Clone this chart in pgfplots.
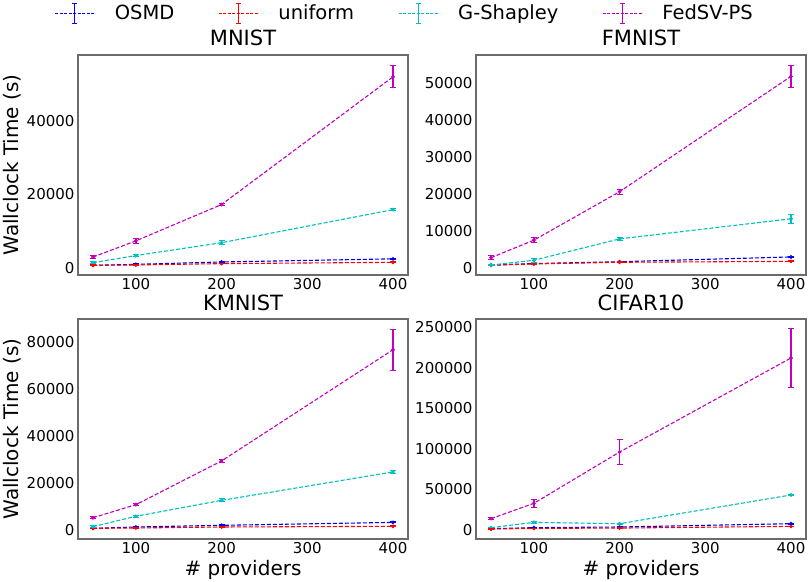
\documentclass[border=0pt]{standalone}
\usepackage{fontspec}
\setmainfont{DejaVu Sans}
\usepackage{pgfplots}
\pgfplotsset{compat=1.18}
\definecolor{cosmd}{rgb}{0,0,1}
\definecolor{cunif}{rgb}{1,0,0}
\definecolor{cgsh}{rgb}{0,0.75,0.75}
\definecolor{cfed}{rgb}{0.75,0,0.75}
\definecolor{framec}{gray}{0.42}
\pgfplotsset{
  panel/.style={
    scale only axis, width=330pt, height=220pt,
    xmin=32.5, xmax=417.5, xtick={100,200,300,400},
    axis line style={framec, line width=1.4pt},
    major tick length=0pt,
    tick label style={font=\fontsize{15}{18}\selectfont},
    /pgf/number format/fixed,
    /pgf/number format/assume math mode=true,
    /pgf/number format/1000 sep={},
    scaled y ticks=false,
    unbounded coords=jump,
    title style={font=\fontsize{21}{24}\selectfont, at={(0.5,1)}, anchor=base, yshift=3pt},
    label style={font=\fontsize{20}{24}\selectfont},
  },
  yl/.style={ylabel={Wallclock Time (s)}, ylabel style={at={(axis description cs:-0.2,0.5)}, anchor=center}},
  xl/.style={xlabel={\# providers}, xlabel style={at={(axis description cs:0.5,-0.14)}, anchor=center}},
  % mean curve: dashed line with a small dot
  ser/.style={color=#1, dash pattern=on 4pt off 2pt, line width=1.1pt,
    mark=*, mark size=1.3pt, mark options={solid, color=#1}},
  % error bars: (x,low) (x,high) pairs separated by nan, capped by the '-' mark
  err/.style={color=#1, solid, line width=1.5pt, forget plot,
    mark=-, mark size=3pt, mark options={solid, color=#1, line width=1pt}},
}
\begin{document}
\begin{tikzpicture}
\useasboundingbox (0,0) rectangle (811pt,581pt);

% MNIST
\begin{axis}[panel, yl, at={(78pt,306pt)}, anchor=south west,
  title={MNIST}, ymin=-2000, ymax=57950, ytick={0,20000,40000},
  legend columns=4,
  legend style={at={(0.99,1.19)}, anchor=center, draw=none, fill=none,
    font=\fontsize{19.5}{22}\selectfont,
    /tikz/every odd column/.append style={column sep=18pt},
    /tikz/every even column/.append style={column sep=42pt}},
  legend image code/.code={
    \draw[#1, dash pattern=on 3pt off 1.5pt, line width=1.1pt] (0pt,0pt) -- (39pt,0pt);
    \draw[#1, solid, line width=1.2pt] (19.5pt,-10pt) -- (19.5pt,10pt) (17pt,-10pt) -- (22pt,-10pt) (17pt,10pt) -- (22pt,10pt);
  }]
\addplot[ser=cosmd] coordinates {(50,640) (100,900) (200,1550) (400,2400)};
\addlegendentry{OSMD}
\addplot[ser=cunif] coordinates {(50,640) (100,730) (200,1100) (400,1450)};
\addlegendentry{uniform}
\addplot[ser=cgsh] coordinates {(50,1370) (100,3300) (200,6800) (400,15800)};
\addlegendentry{G-Shapley}
\addplot[ser=cfed] coordinates {(50,2900) (100,7300) (200,17200) (400,52000)};
\addlegendentry{FedSV-PS}
\addplot[err=cosmd] coordinates {(50,540) (50,740) (50,nan) (100,800) (100,1000) (100,nan) (200,1400) (200,1700) (200,nan) (400,2200) (400,2600)};
\addplot[err=cunif] coordinates {(50,540) (50,740) (50,nan) (100,630) (100,830) (100,nan) (200,1000) (200,1200) (200,nan) (400,1300) (400,1600)};
\addplot[err=cgsh] coordinates {(50,1170) (50,1570) (50,nan) (100,3000) (100,3600) (100,nan) (200,6200) (200,7400) (200,nan) (400,15500) (400,16100)};
\addplot[err=cfed] coordinates {(50,2600) (50,3200) (50,nan) (100,6700) (100,7900) (100,nan) (200,16900) (200,17500) (200,nan) (400,49000) (400,55000)};
\end{axis}

% FMNIST
\begin{axis}[panel, at={(476pt,306pt)}, anchor=south west,
  title={FMNIST}, ymin=-2000, ymax=57700, ytick={0,10000,20000,30000,40000,50000}]
\addplot[ser=cosmd] coordinates {(50,700) (100,1100) (200,1600) (400,2900)};
\addplot[ser=cunif] coordinates {(50,640) (100,1000) (200,1450) (400,1700)};
\addplot[ser=cgsh] coordinates {(50,700) (100,2000) (200,7800) (400,13250)};
\addplot[ser=cfed] coordinates {(50,2700) (100,7450) (200,20600) (400,51900)};
\addplot[err=cosmd] coordinates {(50,600) (50,800) (50,nan) (100,1000) (100,1200) (100,nan) (200,1450) (200,1750) (200,nan) (400,2700) (400,3100)};
\addplot[err=cunif] coordinates {(50,540) (50,740) (50,nan) (100,900) (100,1100) (100,nan) (200,1350) (200,1550) (200,nan) (400,1550) (400,1850)};
\addplot[err=cgsh] coordinates {(50,500) (50,900) (50,nan) (100,1400) (100,2600) (100,nan) (200,7300) (200,8300) (200,nan) (400,11950) (400,14550)};
\addplot[err=cfed] coordinates {(50,2200) (50,3200) (50,nan) (100,6850) (100,8050) (100,nan) (200,19900) (200,21300) (200,nan) (400,48900) (400,54900)};
\end{axis}

% KMNIST
\begin{axis}[panel, yl, xl, at={(78pt,42pt)}, anchor=south west,
  title={KMNIST}, ymin=-3980, ymax=89800, ytick={0,20000,40000,60000,80000}]
\addplot[ser=cosmd] coordinates {(50,570) (100,1140) (200,1850) (400,3100)};
\addplot[ser=cunif] coordinates {(50,570) (100,710) (200,1140) (400,1420)};
\addplot[ser=cgsh] coordinates {(50,1280) (100,5700) (200,12500) (400,24600)};
\addplot[ser=cfed] coordinates {(50,5100) (100,10650) (200,29300) (400,76700)};
\addplot[err=cosmd] coordinates {(50,470) (50,670) (50,nan) (100,1040) (100,1240) (100,nan) (200,1700) (200,2000) (200,nan) (400,2900) (400,3300)};
\addplot[err=cunif] coordinates {(50,470) (50,670) (50,nan) (100,610) (100,810) (100,nan) (200,1040) (200,1240) (200,nan) (400,1270) (400,1570)};
\addplot[err=cgsh] coordinates {(50,980) (50,1580) (50,nan) (100,5300) (100,6100) (100,nan) (200,11900) (200,13100) (200,nan) (400,24000) (400,25200)};
\addplot[err=cfed] coordinates {(50,4800) (50,5400) (50,nan) (100,10150) (100,11150) (100,nan) (200,28500) (200,30100) (200,nan) (400,68000) (400,85400)};
\end{axis}

% CIFAR10
\begin{axis}[panel, xl, at={(476pt,42pt)}, anchor=south west,
  title={CIFAR10}, ymin=-11500, ymax=259900, ytick={0,50000,100000,150000,200000,250000}]
\addplot[ser=cosmd] coordinates {(50,1200) (100,2500) (200,3300) (400,7400)};
\addplot[ser=cunif] coordinates {(50,800) (100,1600) (200,2000) (400,4100)};
\addplot[ser=cgsh] coordinates {(50,2500) (100,9000) (200,7400) (400,42800)};
\addplot[ser=cfed] coordinates {(50,13600) (100,32500) (200,95800) (400,211800)};
\addplot[err=cosmd] coordinates {(50,1000) (50,1400) (50,nan) (100,2200) (100,2800) (100,nan) (200,3000) (200,3600) (200,nan) (400,7000) (400,7800)};
\addplot[err=cunif] coordinates {(50,600) (50,1000) (50,nan) (100,1300) (100,1900) (100,nan) (200,1700) (200,2300) (200,nan) (400,3700) (400,4500)};
\addplot[err=cgsh] coordinates {(50,2200) (50,2800) (50,nan) (100,8200) (100,9800) (100,nan) (200,6800) (200,8000) (200,nan) (400,41800) (400,43800)};
\addplot[err=cfed] coordinates {(50,12600) (50,14600) (50,nan) (100,27500) (100,37500) (100,nan) (200,80000) (200,111600) (200,nan) (400,175200) (400,248400)};
\end{axis}
\end{tikzpicture}
\end{document}
